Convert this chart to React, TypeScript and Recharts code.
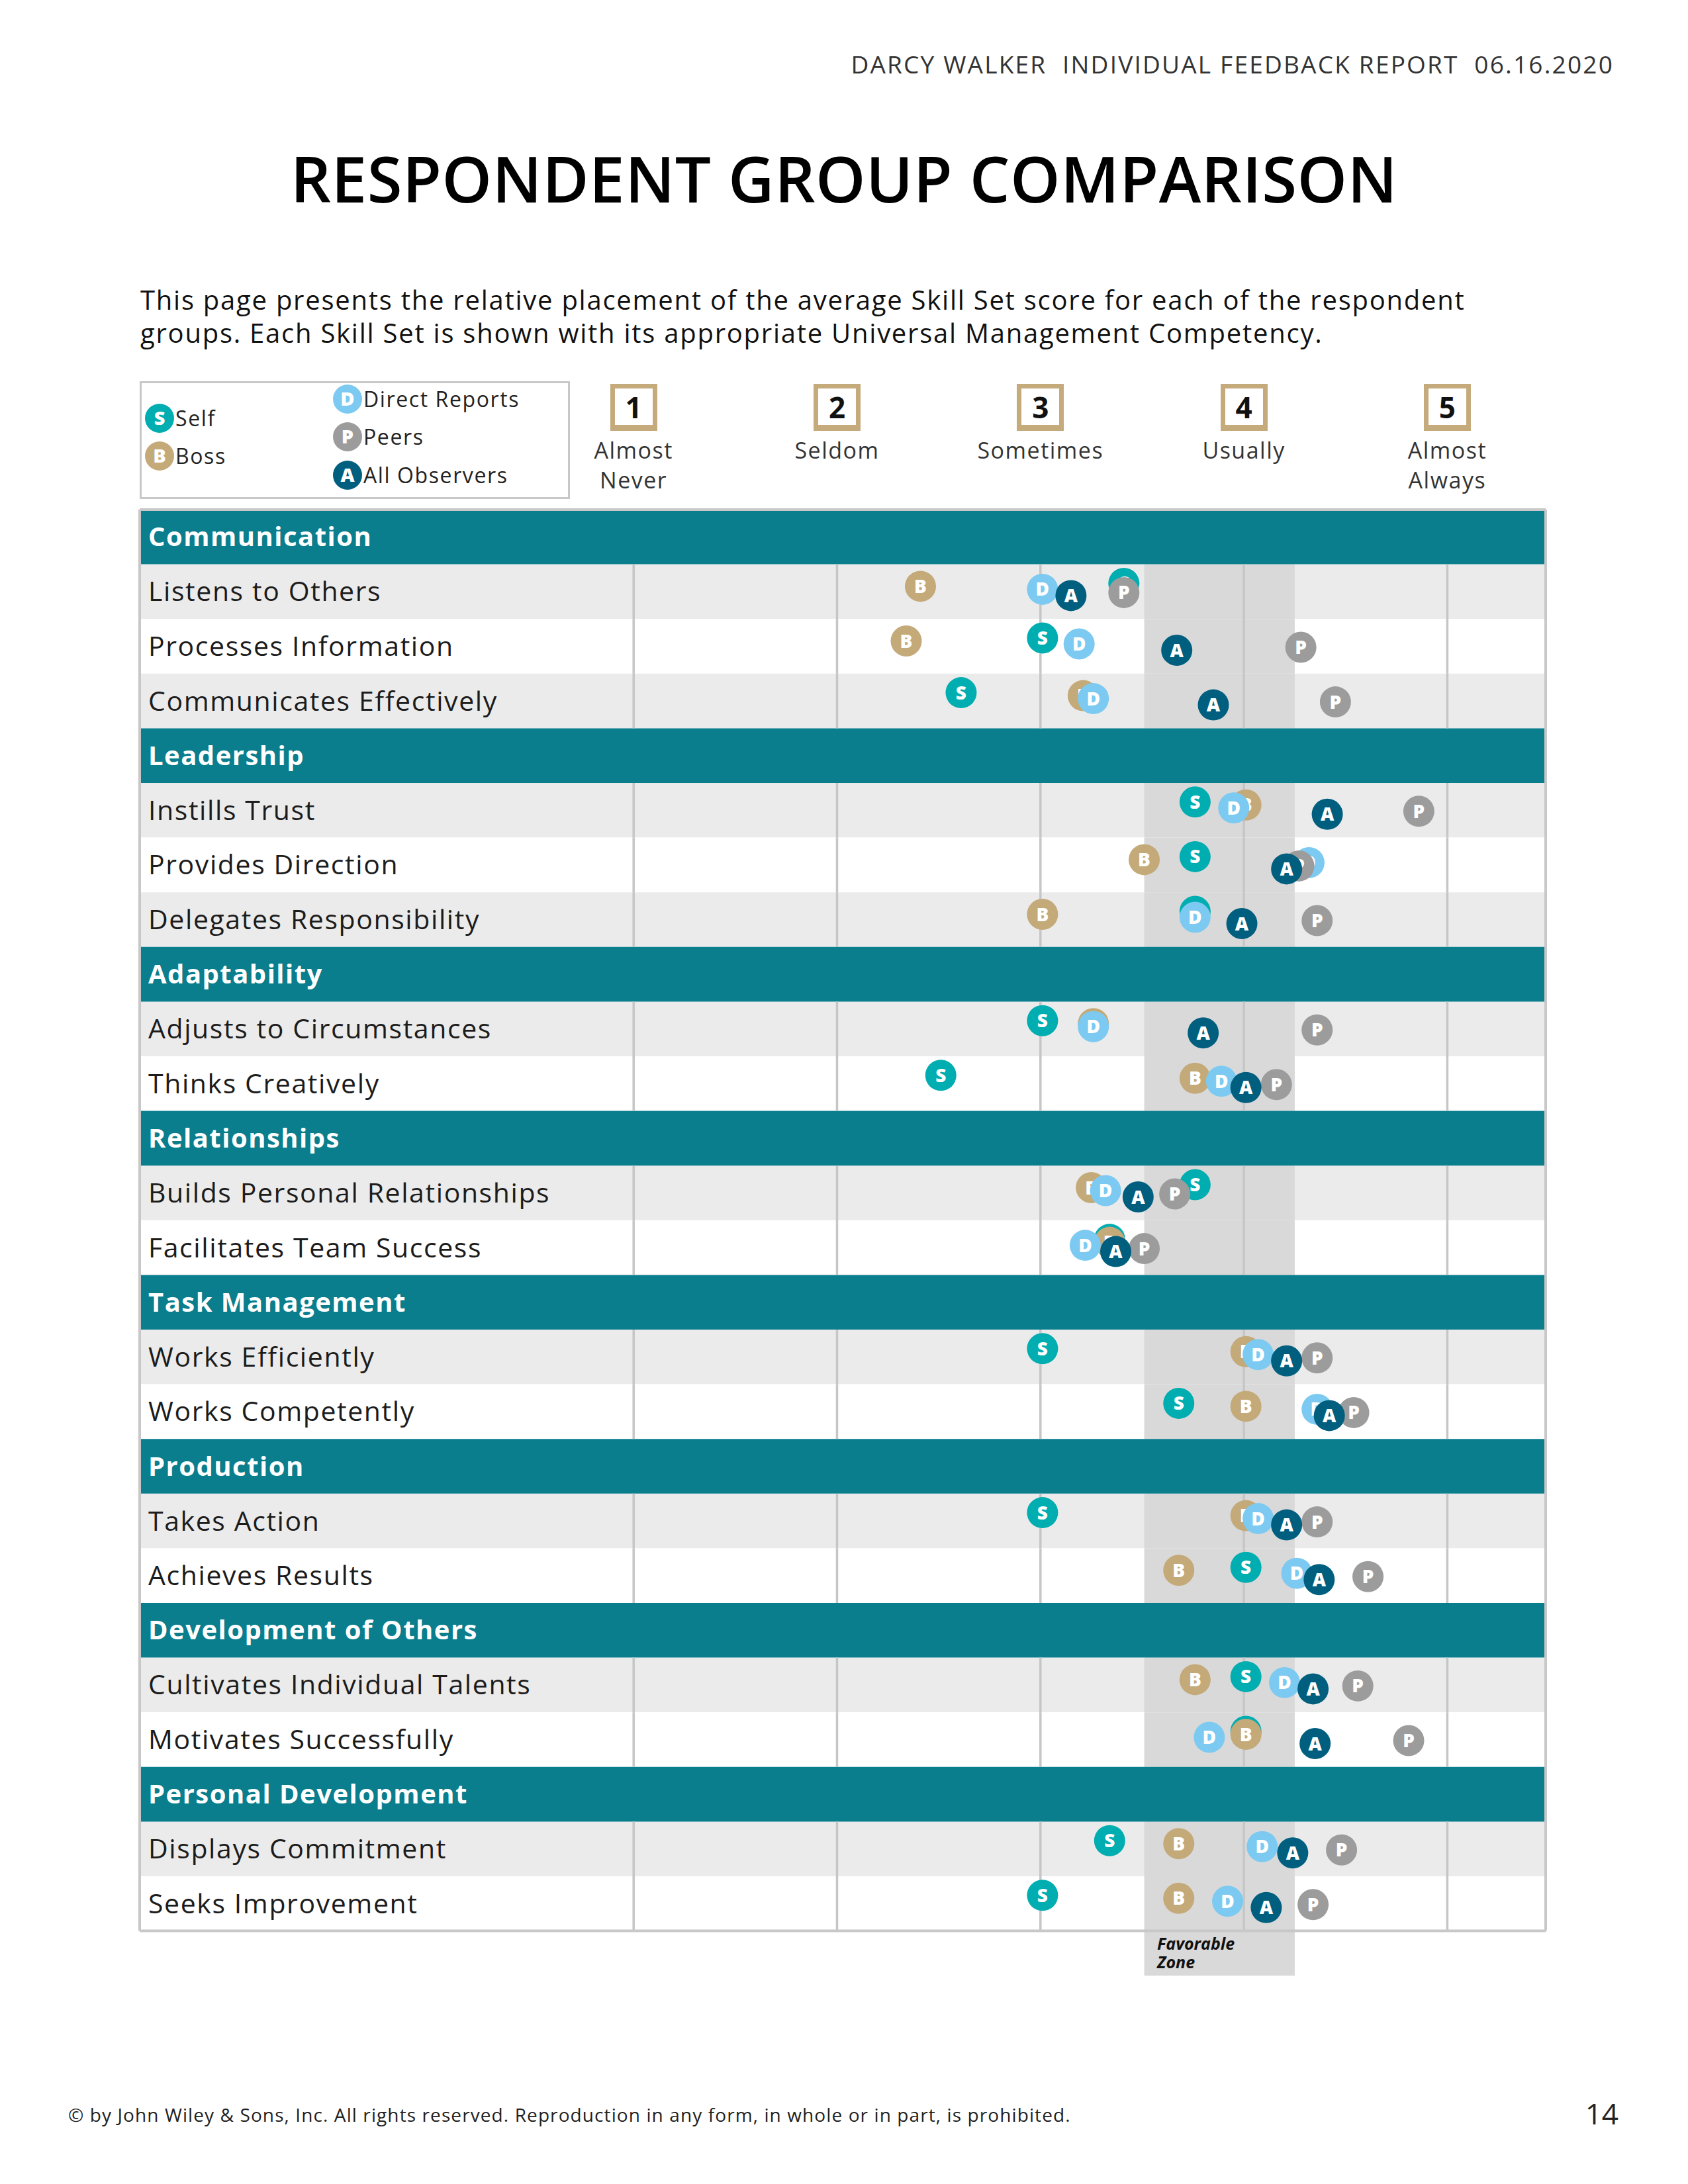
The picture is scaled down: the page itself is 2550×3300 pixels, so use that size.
import React from 'react';
import { ScatterChart, Scatter, XAxis, YAxis, ReferenceArea, ReferenceLine } from 'recharts';

// competency sections and their skill sets
const sections = [
  'Communication',
  'Leadership',
  'Adaptability',
  'Relationships',
  'Task Management',
  'Production',
  'Development of Others',
  'Personal Development',
];

const skills = [
  'Listens to Others',
  'Processes Information',
  'Communicates Effectively',
  'Instills Trust',
  'Provides Direction',
  'Delegates Responsibility',
  'Adjusts to Circumstances',
  'Thinks Creatively',
  'Builds Personal Relationships',
  'Facilitates Team Success',
  'Works Efficiently',
  'Works Competently',
  'Takes Action',
  'Achieves Results',
  'Cultivates Individual Talents',
  'Motivates Successfully',
  'Displays Commitment',
  'Seeks Improvement',
];

const skillSection = [0, 0, 0, 1, 1, 1, 2, 2, 3, 3, 4, 4, 5, 5, 6, 6, 7, 7];

// average scores per respondent group (one per skill, same order)
const selfScores = [3.41, 3.01, 2.61, 3.76, 3.76, 3.76, 3.01, 2.51, 3.76, 3.34, 3.01, 3.68, 3.01, 4.01, 4.01, 4.01, 3.34, 3.01];
const bossScores = [2.41, 2.34, 3.21, 4.01, 3.51, 3.01, 3.26, 3.76, 3.25, 3.34, 4.01, 4.01, 4.01, 3.68, 3.76, 4.01, 3.68, 3.68];
const directScores = [3.01, 3.19, 3.26, 3.95, 4.32, 3.76, 3.26, 3.89, 3.32, 3.22, 4.07, 4.36, 4.07, 4.26, 4.2, 3.83, 4.09, 3.92];
const peerScores = [3.41, 4.28, 4.45, 4.86, 4.27, 4.36, 4.36, 4.16, 3.66, 3.51, 4.36, 4.54, 4.36, 4.61, 4.56, 4.81, 4.48, 4.34];
const allScores = [3.15, 3.67, 3.85, 4.41, 4.21, 3.99, 3.8, 4.01, 3.48, 3.37, 4.21, 4.42, 4.21, 4.37, 4.34, 4.35, 4.24, 4.11];

const scaleValues = [1, 2, 3, 4, 5];
const scaleLabels = [['Almost', 'Never'], ['Seldom'], ['Sometimes'], ['Usually'], ['Almost', 'Always']];
const favorableZone = [3.51, 4.25];

const FONT = "'Open Sans', 'DejaVu Sans', sans-serif";
const TEAL = '#0a7e8d';
const GRID = '#c6c6c6';

const groups = [
  { key: 'self', name: 'Self', letter: 'S', color: '#00adb0', scores: selfScores, dy: -12.5 },
  { key: 'boss', name: 'Boss', letter: 'B', color: '#c4a979', scores: bossScores, dy: -8 },
  { key: 'direct', name: 'Direct Reports', letter: 'D', color: '#7ccaf1', scores: directScores, dy: -3.5 },
  { key: 'peers', name: 'Peers', letter: 'P', color: '#9c9c9c', scores: peerScores, dy: 1.5 },
  { key: 'all', name: 'All Observers', letter: 'A', color: '#005e7e', scores: allScores, dy: 6 },
];

// page geometry (px)
const M = 6;
const TABLE_LEFT = 211;
const TABLE_TOP = 770;
const TABLE_W = 2124;
const ROW_H = 82.6;
const UNIT = 307.3;
const X_ONE = 957.2;
const xMin = 1 - (X_ONE - TABLE_LEFT) / UNIT;
const xMax = xMin + TABLE_W / UNIT;
const yMax = 26.82;
const R = 23.5;

type Row = { label: string; kind: 'section' | 'skill'; top: number; shade: boolean };
const rows: Row[] = [];
const skillRow: number[] = [];
sections.forEach((sec, si) => {
  rows.push({ label: sec, kind: 'section', top: rows.length, shade: false });
  let n = 0;
  skills.forEach((sk, k) => {
    if (skillSection[k] !== si) return;
    skillRow[k] = rows.length;
    rows.push({ label: sk, kind: 'skill', top: rows.length, shade: n % 2 === 0 });
    n++;
  });
});
const nRows = rows.length;
const skillRows = rows.filter((r) => r.kind === 'skill');

const makeDot = (letter: string, color: string, dy: number) => (props: any) => {
  const { cx, cy } = props;
  if (cx == null || cy == null) return <g />;
  return (
    <g>
      <circle cx={cx} cy={cy + dy} r={R} fill={color} />
      <text x={cx} y={cy + dy} dy="0.36em" textAnchor="middle" fill="#fff" fontSize={28} fontWeight={800} fontFamily={FONT}>
        {letter}
      </text>
    </g>
  );
};

function LegendBox() {
  const pos: Record<string, [number, number]> = {
    self: [30, 56],
    boss: [30, 113],
    direct: [314, 27],
    peers: [314, 84],
    all: [314, 142],
  };
  return (
    <div style={{ position: 'absolute', left: TABLE_LEFT, top: 576, width: 650, height: 178, boxSizing: 'border-box', border: '3px solid #c8c8c8', background: '#fff' }}>
      <svg width={644} height={172} style={{ position: 'absolute', left: 0, top: 0 }}>
        {groups.map((g) => {
          const [x, y] = pos[g.key];
          return (
            <g key={g.key}>
              <circle cx={x - 3} cy={y - 3} r={22} fill={g.color} />
              <text x={x - 3} y={y - 3} dy="0.36em" textAnchor="middle" fill="#fff" fontSize={29} fontWeight={800} fontFamily={FONT}>{g.letter}</text>
              <text x={x + 21} y={y - 3} dy="0.36em" fill="#222" fontSize={32} letterSpacing={1.6} fontFamily={FONT}>{g.name}</text>
            </g>
          );
        })}
      </svg>
    </div>
  );
}

function ScaleHeader() {
  return (
    <>
      {scaleValues.map((v, i) => {
        const cx = X_ONE + (v - 1) * UNIT;
        return (
          <React.Fragment key={v}>
            <div style={{ position: 'absolute', left: cx - 35.5, top: 580, width: 71, height: 71, boxSizing: 'border-box', border: '7px solid #c5aa7b', borderBottomWidth: 9, display: 'flex', alignItems: 'center', justifyContent: 'center', fontFamily: FONT, fontWeight: 700, fontSize: 44, color: '#111' }}>
              {v}
            </div>
            <div style={{ position: 'absolute', left: cx - 100, top: 658, width: 200, textAlign: 'center', fontFamily: FONT, fontSize: 34, letterSpacing: 1.5, lineHeight: '45px', color: '#333' }}>
              {scaleLabels[i].map((l) => <div key={l}>{l}</div>)}
            </div>
          </React.Fragment>
        );
      })}
    </>
  );
}

export default function App() {
  return (
    <div style={{ position: 'absolute', left: 0, top: 0, width: 2550, height: 3300, background: '#fff', fontFamily: FONT, color: '#111' }}>
      <div style={{ position: 'absolute', right: 112, top: 78, fontSize: 37, lineHeight: '37px', letterSpacing: 2.2, color: '#333', whiteSpace: 'pre' }}>
        {'DARCY WALKER  INDIVIDUAL FEEDBACK REPORT  06.16.2020'}
      </div>
      <div style={{ position: 'absolute', left: 0, width: 2550, top: 221, textAlign: 'center', fontSize: 96, lineHeight: '96px', fontWeight: 600, letterSpacing: 0.5, color: '#000' }}>
        RESPONDENT GROUP COMPARISON
      </div>
      <div style={{ position: 'absolute', left: 212, top: 428, fontSize: 40, lineHeight: '50px', letterSpacing: 1.75, color: '#111', whiteSpace: 'nowrap' }}>
        <div>This page presents the relative placement of the average Skill Set score for each of the respondent</div>
        <div>groups. Each Skill Set is shown with its appropriate Universal Management Competency.</div>
      </div>

      <LegendBox />
      <ScaleHeader />

      <div style={{ position: 'absolute', left: TABLE_LEFT - M, top: TABLE_TOP - M }}>
        <ScatterChart width={TABLE_W + 2 * M} height={yMax * ROW_H + 2 * M} margin={{ top: M, right: M, bottom: M, left: M }}>
          <XAxis type="number" dataKey="x" domain={[xMin, xMax]} allowDataOverflow hide />
          <YAxis type="number" dataKey="y" domain={[0, yMax]} reversed allowDataOverflow hide />

          {skillRows.map((r) => (
            <ReferenceArea
              key={'bg' + r.top}
              x1={xMin}
              x2={xMax}
              y1={r.top}
              y2={r.top + 1}
              fill={r.shade ? '#ebebeb' : '#ffffff'}
              fillOpacity={1}
              stroke="none"
              label={{ value: r.label, position: 'insideLeft', offset: 13, fill: '#1c1c1c', fontSize: 41, letterSpacing: 1.6, fontFamily: FONT }}
            />
          ))}
          {skillRows.map((r) => (
            <ReferenceArea key={'fz' + r.top} x1={favorableZone[0]} x2={favorableZone[1]} y1={r.top} y2={r.top + 1} fill="#d9d9d9" fillOpacity={1} stroke="none" />
          ))}
          <ReferenceArea x1={favorableZone[0]} x2={favorableZone[1]} y1={nRows} y2={yMax} fill="#d9d9d9" fillOpacity={1} stroke="none" />
          {rows
            .filter((r) => r.kind === 'section')
            .map((r) => (
              <ReferenceArea
                key={'sec' + r.top}
                x1={xMin}
                x2={xMax}
                y1={r.top}
                y2={r.top + 1}
                fill={TEAL}
                fillOpacity={1}
                stroke="none"
                label={{ value: r.label, position: 'insideLeft', offset: 13, fill: '#ffffff', fontSize: 40, fontWeight: 700, letterSpacing: 1.5, fontFamily: FONT }}
              />
            ))}

          {skillRows.map((r) =>
            scaleValues.map((v) => (
              <ReferenceLine
                key={'g' + r.top + '-' + v}
                segment={[{ x: v, y: r.top }, { x: v, y: r.top + 1 }]}
                stroke={GRID}
                strokeWidth={3.5}
              />
            ))
          )}
          <ReferenceLine segment={[{ x: xMin, y: 0 }, { x: xMin, y: nRows }]} stroke="#c8c8c8" strokeWidth={4} />
          <ReferenceLine segment={[{ x: xMax, y: 0 }, { x: xMax, y: nRows }]} stroke="#c8c8c8" strokeWidth={4} />
          <ReferenceLine y={nRows} stroke="#c8c8c8" strokeWidth={4} />
          <ReferenceLine y={0} stroke="#c8c8c8" strokeWidth={4} />

          {groups.map((g) => (
            <Scatter
              key={g.key}
              name={g.name}
              data={g.scores.map((s, k) => ({ x: s, y: skillRow[k] + 0.5, skill: skills[k] }))}
              shape={makeDot(g.letter, g.color, g.dy)}
              isAnimationActive={false}
            />
          ))}
        </ScatterChart>
      </div>

      <div style={{ position: 'absolute', left: 1748, top: 2922, fontSize: 25, lineHeight: '28px', fontWeight: 700, fontStyle: 'italic', color: '#111' }}>
        <div>Favorable</div>
        <div>Zone</div>
      </div>

      <div style={{ position: 'absolute', left: 103, top: 3181, fontSize: 28, lineHeight: '28px', letterSpacing: 1.1, color: '#222', whiteSpace: 'nowrap' }}>
        © by John Wiley &amp; Sons, Inc. All rights reserved. Reproduction in any form, in whole or in part, is prohibited.
      </div>
      <div style={{ position: 'absolute', right: 105, top: 3171, fontSize: 44, lineHeight: '44px', color: '#222' }}>14</div>
    </div>
  );
}
